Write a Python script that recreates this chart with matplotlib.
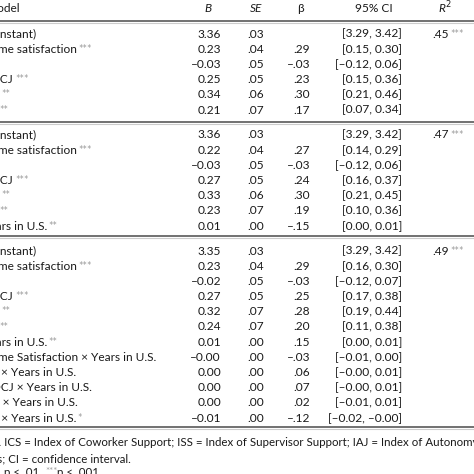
import matplotlib.pyplot as plt

plt.rcParams['font.family'] = ['Lato', 'DejaVu Sans']

headers = ['B', 'SE', 'β', '95% CI', 'R$^2$']

labels1 = ['(Constant)', 'Home satisfaction', 'ISS', 'ILOCJ', 'ICS', 'IAJ']
stars1 = ['', '***', '', '***', '**', '**']
b1 = ['3.36', '0.23', '–0.03', '0.25', '0.34', '0.21']
se1 = ['.03', '.04', '.05', '.05', '.06', '.07']
beta1 = ['', '.29', '–.03', '.23', '.30', '.17']
ci1 = ['[3.29, 3.42]', '[0.15, 0.30]', '[–0.12, 0.06]', '[0.15, 0.36]',
       '[0.21, 0.46]', '[0.07, 0.34]']
r2_1 = '.45'

labels2 = labels1 + ['Years in U.S.']
stars2 = stars1 + ['**']
b2 = ['3.36', '0.22', '–0.03', '0.27', '0.33', '0.23', '0.01']
se2 = ['.03', '.04', '.05', '.05', '.06', '.07', '.00']
beta2 = ['', '.27', '–.03', '.24', '.30', '.19', '–.15']
ci2 = ['[3.29, 3.42]', '[0.14, 0.29]', '[–0.12, 0.06]', '[0.16, 0.37]',
       '[0.21, 0.45]', '[0.10, 0.36]', '[0.00, 0.01]']
r2_2 = '.47'

labels3 = labels2 + ['Home Satisfaction × Years in U.S.', 'ISS × Years in U.S.',
                     'ILOCJ × Years in U.S.', 'ICS × Years in U.S.',
                     'IAJ × Years in U.S.']
stars3 = stars2 + ['', '', '', '', '*']
b3 = ['3.35', '0.23', '–0.02', '0.27', '0.32', '0.24', '0.01',
      '–0.00', '0.00', '0.00', '0.00', '–0.01']
se3 = ['.03', '.04', '.05', '.05', '.07', '.07', '.00', '.00', '.00', '.00', '.00', '.00']
beta3 = ['', '.29', '–.03', '.25', '.28', '.20', '.15', '–.03', '.06', '.07', '.02', '–.12']
ci3 = ['[3.29, 3.42]', '[0.16, 0.30]', '[–0.12, 0.07]', '[0.17, 0.38]',
       '[0.19, 0.44]', '[0.11, 0.38]', '[0.00, 0.01]', '[–0.01, 0.00]',
       '[–0.00, 0.01]', '[–0.00, 0.01]', '[–0.01, 0.01]', '[–0.02, –0.00]']
r2_3 = '.49'

notes = ['Note. ICS = Index of Coworker Support; ISS = Index of Supervisor Support; IAJ = Index of Autonomy; ILOCJ = Index of Locus of Control',
         'variables; CI = confidence interval.']

fig = plt.figure(figsize=(4.74, 4.74), dpi=100)
ax = fig.add_axes([0, 0, 1, 1])
ax.set_xlim(0, 474)
ax.set_ylim(474, 0)
ax.axis('off')

fs = 8.6
ink = '#1a1a1a'
gray = '#a0a0a0'


def label(x, y, text, stars):
    t = ax.text(x, y, text, fontsize=fs, va='center', ha='left', color=ink)
    if stars:
        ax.annotate(stars, xy=(1, 0.5), xycoords=t, fontsize=fs - 1,
                    color=gray, va='center', ha='left', xytext=(1, 0),
                    textcoords='offset points')


def block(y0, labels, stars, b, se, beta, ci, r2):
    for i in range(len(labels)):
        y = y0 + i * 15.2
        label(-18, y, labels[i], stars[i])
        ax.text(221, y, b[i], fontsize=fs, va='center', ha='right', color=ink)
        ax.text(247, y, se[i], fontsize=fs, va='center', ha='left', color=ink)
        ax.text(310, y, beta[i], fontsize=fs, va='center', ha='right', color=ink)
        ax.text(402, y, ci[i], fontsize=fs, va='center', ha='right', color=ink)
    t = ax.text(432, y0, r2, fontsize=fs, va='center', ha='left', color=ink)
    ax.annotate('***', xy=(1, 0.5), xycoords=t, fontsize=fs - 1,
                color=gray, va='center', ha='left', xytext=(1, 0),
                textcoords='offset points')


# header
label(-13, 8, 'Model', '')
ax.text(208, 8, headers[0], fontsize=fs, style='italic', va='center', ha='center', color=ink)
ax.text(256, 8, headers[1], fontsize=fs, style='italic', va='center', ha='center', color=ink)
ax.text(300, 8, headers[2], fontsize=fs, va='center', ha='center', color=ink)
ax.text(374, 8, headers[3], fontsize=fs, va='center', ha='center', color=ink)
ax.text(445, 8, headers[4], fontsize=fs, style='italic', va='center', ha='center', color=ink)

for y in [21, 122, 236, 427]:
    ax.plot([0, 474], [y, y], color='#666666', lw=1.3)
    ax.plot([0, 474], [y + 2, y + 2], color='#cccccc', lw=0.8)

block(34, labels1, stars1, b1, se1, beta1, ci1, r2_1)
block(135, labels2, stars2, b2, se2, beta2, ci2, r2_2)
block(251, labels3, stars3, b3, se3, beta3, ci3, r2_3)

ax.text(-27, 443, notes[0], fontsize=fs - 0.3, va='center', ha='left', color=ink)
ax.text(-42, 459, notes[1], fontsize=fs - 0.3, va='center', ha='left', color=ink)
t = ax.text(4, 472, 'p < .01. ', fontsize=fs - 0.3, va='center', ha='left', color=ink)
t2 = ax.annotate('***', xy=(1, 0.5), xycoords=t, fontsize=fs - 1.5, color=gray,
                 va='center', ha='left')
ax.annotate('p < .001.', xy=(1, 0.5), xycoords=t2, fontsize=fs - 0.3, va='center',
            ha='left', color=ink)

fig.savefig('out.png', dpi=100)
